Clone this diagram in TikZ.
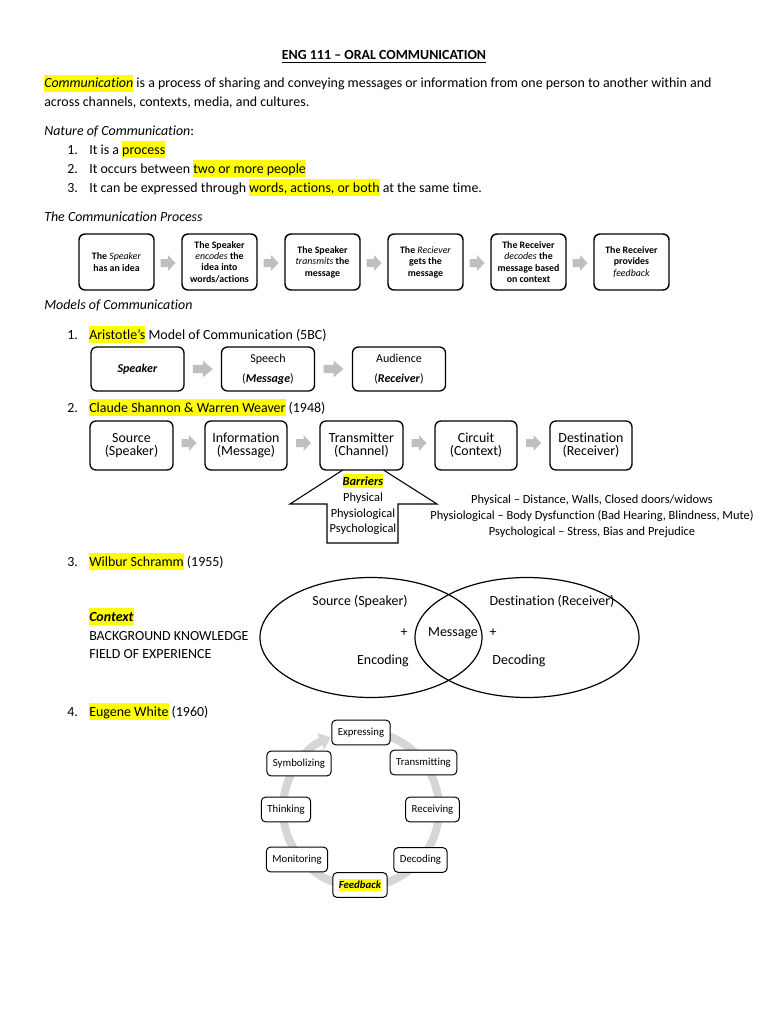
\documentclass[tikz,border=0pt]{standalone}
\usepackage{fontspec}
\setmainfont{Carlito}[Ligatures=NoCommon]
\usetikzlibrary{arrows.meta,calc}
\definecolor{hly}{RGB}{255,255,0}
\definecolor{agray}{RGB}{191,191,191}
\definecolor{rgray}{RGB}{214,214,214}
\newcommand\hlt[1]{{\setlength{\fboxsep}{0pt}\colorbox{hly}{\rule[-0.27em]{0pt}{1.17em}#1}}}
\newcommand\mi[1]{\textmd{\textit{#1}}}
\newcommand\bi[1]{\textbf{\textit{#1}}}
\begin{document}
\begin{tikzpicture}[x=0.75pt,y=-0.75pt,
  body/.style={anchor=base west,inner sep=0pt,font=\fontsize{10.45}{12}\selectfont},
  bodyc/.style={anchor=base,inner sep=0pt,font=\fontsize{10.45}{12}\selectfont},
  small/.style={anchor=base,inner sep=0pt,font=\fontsize{9.3}{12}\selectfont},
  pbox/.style={draw,line width=1.1pt,rounded corners=4.5pt,minimum width=56.25pt,minimum height=42pt,align=center,inner sep=0pt,font=\fontsize{7.4}{8.6}\selectfont\bfseries},
  abox/.style={draw,line width=1pt,rounded corners=4.5pt,minimum width=69.75pt,minimum height=33pt,align=center,inner sep=0pt,font=\fontsize{9}{15}\selectfont},
  sbox/.style={draw,line width=1pt,rounded corners=4.5pt,fill=white,minimum height=36.75pt,align=center,inner sep=0pt,font=\fontsize{10.45}{10}\selectfont},
  wbox/.style={draw,line width=0.75pt,rounded corners=3pt,fill=white,minimum height=18.5pt,inner xsep=4.5pt,inner ysep=0pt,font=\fontsize{8.1}{9}\selectfont},
  garrow/.pic={\fill[agray] (-7.5,-4) -- (0,-4) -- (0,-8) -- (7.5,0) -- (0,8) -- (0,4) -- (-7.5,4) -- cycle;}
]
\useasboundingbox (0,0) rectangle (768,1024);
\fill[white] (0,0) rectangle (768,1024);

% header text
\node[bodyc] (title) at (384,60) {\textbf{\underline{ENG 111 – ORAL COMMUNICATION}}};
\node[body] (p1) at (44,88) {\hlt{\textit{Communication}} is a process of sharing and conveying messages or information from one person to another within and};
\node[body] (p2) at (44,107) {across channels, contexts, media, and cultures.};
\node[body] (nat) at (44,135) {\textit{Nature of Communication}:};
\node[body] (n1) at (67,154) {1.};
\node[body] (l1) at (89,154) {It is a \hlt{process}};
\node[body] (n2) at (67,173) {2.};
\node[body] (l2) at (89,173) {It occurs between \hlt{two or more people}};
\node[body] (n3) at (67,192) {3.};
\node[body] (l3) at (89,192) {It can be expressed through \hlt{words, actions, or both} at the same time.};
\node[body] (proc) at (44,221) {\textit{The Communication Process}};

% process row
\node[pbox] (c1) at (116.5,262) {The \mi{Speaker}\\has an idea};
\node[pbox] (c2) at (219.5,262) {The Speaker\\\mi{encodes} the\\idea into\\words/actions};
\node[pbox] (c3) at (322.5,262) {The Speaker\\\mi{transmits} the\\message};
\node[pbox] (c4) at (425.5,262) {The \mi{Reciever}\\gets the\\message};
\node[pbox] (c5) at (528.5,262) {The Receiver\\\mi{decodes} the\\message based\\on context};
\node[pbox] (c6) at (631.5,262) {The Receiver\\provides\\\mi{feedback}};
\foreach \a/\b in {c1/c2,c2/c3,c3/c4,c4/c5,c5/c6}
  \pic at ($(\a.east)!0.5!(\b.west)+(0,1)$) {garrow};

\node[body] (models) at (44,309) {\textit{Models of Communication}};

% Aristotle
\node[body] (m1) at (67,339) {1.};
\node[body] (ar) at (89,339) {\hlt{Aristotle’s} Model of Communication (5BC)};
\node[abox] (a1) at (137.5,369) {\bi{Speaker}};
\node[abox] (a2) at (268,369) {Speech\\(\bi{Message})};
\node[abox] (a3) at (399,369) {Audience\\(\bi{Receiver})};
\foreach \a/\b in {a1/a2,a2/a3}
  \pic[xscale=1.33,yscale=1.06] at ($(\a.east)!0.5!(\b.west)$) {garrow};

% Shannon & Weaver
\node[body] (m2) at (67,412) {2.};
\node[body] (sw) at (89,412) {\hlt{Claude Shannon \& Warren Weaver} (1948)};
\draw[line width=0.8pt,fill=white] (363,457) -- (437,504) -- (398,504) -- (398,543) -- (327,543) -- (327,504) -- (290,504) -- cycle;
\node[sbox,minimum width=62.25pt] (s1) at (131.5,445.5) {Source\\(Speaker)};
\node[sbox,minimum width=61.5pt] (s2) at (246,445.5) {Information\\(Message)};
\node[sbox,minimum width=62.25pt] (s3) at (361.5,445.5) {Transmitter\\(Channel)};
\node[sbox,minimum width=61.5pt] (s4) at (476,445.5) {Circuit\\(Context)};
\node[sbox,minimum width=61.5pt] (s5) at (591,445.5) {Destination\\(Receiver)};
\foreach \a/\b in {s1/s2,s2/s3,s3/s4,s4/s5}
  \pic at ($(\a.east)!0.5!(\b.west)+(0,-2.5)$) {garrow};
\node[small] (b0) at (363,485) {\hlt{\bi{Barriers}}};
\node[small] (b1) at (363,501) {Physical};
\node[small] (b2) at (363,517) {Physiological};
\node[small] (b3) at (363,532) {Psychological};
\node[small] (d1) at (592,503) {Physical – Distance, Walls, Closed doors/widows};
\node[small] (d2) at (592,519) {Physiological – Body Dysfunction (Bad Hearing, Blindness, Mute)};
\node[small] (d3) at (592,535) {Psychological – Stress, Bias and Prejudice};

% Schramm
\node[body] (m3) at (67,566) {3.};
\node[body] (ws) at (89,566) {\hlt{Wilbur Schramm} (1955)};
\node[body] (cx) at (89,621) {\hlt{\bi{Context}}};
\node[body] (bk) at (89,640) {BACKGROUND KNOWLEDGE};
\node[body] (fe) at (89,658) {FIELD OF EXPERIENCE};
\draw[line width=0.9pt] (371,637.5) ellipse [x radius=111, y radius=60];
\draw[line width=0.9pt] (527,637.5) ellipse [x radius=112, y radius=60];
\node[bodyc] (e1) at (360,605) {Source (Speaker)};
\node[bodyc] (e2) at (552,605) {Destination (Receiver)};
\node[bodyc] (e3) at (404,636) {+};
\node[bodyc] (e4) at (453,636) {Message};
\node[bodyc] (e5) at (493,636) {+};
\node[bodyc] (e6) at (383,664) {Encoding};
\node[bodyc] (e7) at (519,664) {Decoding};

% Eugene White
\node[body] (m4) at (67,716) {4.};
\node[body] (ew) at (89,716) {\hlt{Eugene White} (1960)};
\draw[rgray,line width=6pt,-{Triangle[width=13pt,length=8pt]}] ([shift={(361,809)}]-80:78) arc[start angle=-80,end angle=247,radius=78];
\node[wbox] (w1) at (361,732.5) {Expressing};
\node[wbox] (w2) at (423.5,762.5) {Transmitting};
\node[wbox] (w3) at (432.5,809.5) {Receiving};
\node[wbox] (w4) at (420.5,860) {Decoding};
\node[wbox] (w5) at (360,885) {\hlt{\bi{Feedback}}};
\node[wbox] (w6) at (297,859.5) {Monitoring};
\node[wbox] (w7) at (286,809.5) {Thinking};
\node[wbox] (w8) at (299,763.5) {Symbolizing};
\end{tikzpicture}
\end{document}
